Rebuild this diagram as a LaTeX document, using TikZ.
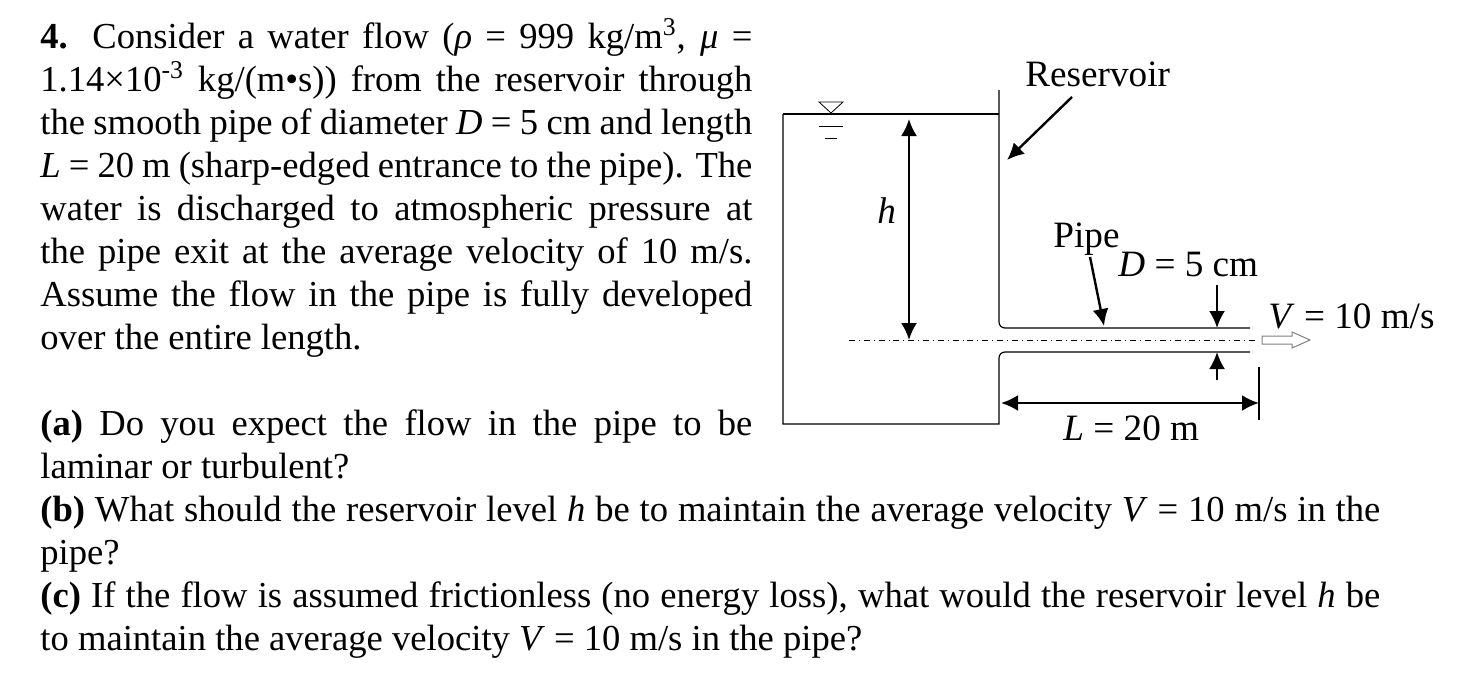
\documentclass[tikz,border=0pt]{standalone}
\usepackage{fontspec}
\setmainfont{Liberation Serif}
\usetikzlibrary{arrows.meta}
\newcommand{\bodyfs}{\fontsize{18.3pt}{21.5pt}\selectfont}
\begin{document}
\begin{tikzpicture}[x=0.5pt,y=-0.5pt,
  wall/.style={line width=0.6pt},
  dim/.style={line width=1.2pt,-{Latex[length=8.5pt,width=8pt]}},
  dimb/.style={line width=1.2pt,{Latex[length=8.5pt,width=8pt]}-{Latex[length=8.5pt,width=8pt]}},
  txt/.style={inner sep=0pt,anchor=base west,font=\fontsize{18.6pt}{21.5pt}\selectfont}]
\useasboundingbox (0,0) rectangle (1477,675);
% text
\node[txt] (p1) at (40,48) {\parbox[t]{356pt}{\bodyfs\textbf{4.} Consider a water flow (\textit{ρ} = 999 kg/m\textsuperscript{3}, \textit{μ} =\linebreak 1.14×10\textsuperscript{-3} kg/(m•s)) from the reservoir through\linebreak the smooth pipe of diameter \textit{D} = 5 cm and length\linebreak \textit{L} = 20 m (sharp-edged entrance to the pipe). The\linebreak water is discharged to atmospheric pressure at\linebreak the pipe exit at the average velocity of 10 m/s.\linebreak Assume the flow in the pipe is fully developed\linebreak over the entire length.}};
\node[txt] (pa) at (40,435) {\parbox[t]{356pt}{\bodyfs\textbf{(a)} Do you expect the flow in the pipe to be\linebreak laminar or turbulent?}};
\node[txt] (pb) at (40,521) {\parbox[t]{670pt}{\bodyfs\textbf{(b)} What should the reservoir level \textit{h} be to maintain the average velocity \textit{V} = 10 m/s in the\linebreak pipe?}};
\node[txt] (pc) at (40,607) {\parbox[t]{670pt}{\bodyfs\textbf{(c)} If the flow is assumed frictionless (no energy loss), what would the reservoir level \textit{h} be\linebreak to maintain the average velocity \textit{V} = 10 m/s in the pipe?}};
% reservoir
\draw[wall] (783,114) -- (783,424) -- (999,424) [rounded corners=3pt] -- (999,352) -- (1250,352);
\draw[wall, rounded corners=3pt] (999,90) -- (999,328) -- (1250,328);
\draw[wall] (783,114) -- (999,114);
% water symbol
\draw[line width=0.4pt] (819,102) -- (843,102) -- (831,113) -- cycle;
\draw[line width=0.5pt] (819,126) -- (843,126) (825,138) -- (837,138);
% centerline
\draw[line width=0.4pt,dash dot] (849,340) -- (1255,340);
% h
\coordinate (ht) at (909,119); \coordinate (hb) at (909,340);
\draw[dimb] (ht) -- (hb);
\node[txt] (h) at (877,223) {\textit{h}};
% labels
\node[txt] (res) at (1025,86) {Reservoir};
\coordinate (resA) at (1072,97); \coordinate (resB) at (1007,160);
\draw[dim] (resA) -- (resB);
\node[txt] (pipe) at (1053,247) {Pipe};
\coordinate (pA) at (1090,257); \coordinate (pB) at (1104,326);
\draw[dim] (pA) -- (pB);
\node[txt] (D) at (1118,276) {\textit{D} = 5 cm};
\coordinate (dA) at (1217,285); \coordinate (dB) at (1217,328);
\draw[dim] (dA) -- (dB);
\coordinate (uA) at (1217,380); \coordinate (uB) at (1217,352);
\draw[dim] (uA) -- (uB);
\node[txt] (V) at (1268,328) {\textit{V} = 10 m/s};
\draw[line width=0.5pt,draw=gray] (1262,336) -- (1292,336) -- (1292,332) -- (1310,340) -- (1292,348) -- (1292,344) -- (1262,344) -- cycle;
% L
\coordinate (lA) at (1001,403); \coordinate (lB) at (1259,403);
\draw[dimb] (lA) -- (lB);
\draw[line width=1.2pt] (1259,367) -- (1259,420);
\node[txt] (L) at (1063,440) {\textit{L} = 20 m};
\end{tikzpicture}
\end{document}
